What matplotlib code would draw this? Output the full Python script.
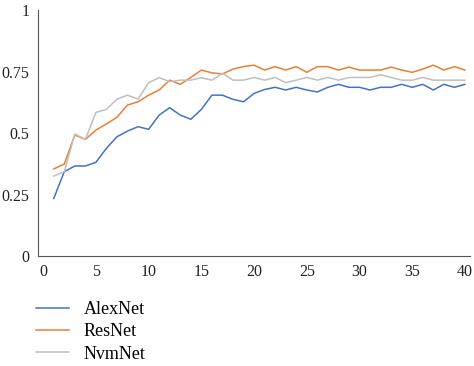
import matplotlib.pyplot as plt
import matplotlib.font_manager as fm
import numpy as np

epochs = list(range(1, 41))
alexnet = [0.234, 0.343, 0.366, 0.366, 0.381, 0.438, 0.485, 0.508, 0.526, 0.515,
           0.573, 0.603, 0.573, 0.556, 0.596, 0.654, 0.654, 0.637, 0.627, 0.661,
           0.677, 0.686, 0.675, 0.686, 0.675, 0.667, 0.686, 0.698, 0.686, 0.686,
           0.675, 0.686, 0.686, 0.698, 0.686, 0.698, 0.675, 0.698, 0.686, 0.698]
resnet = [0.354, 0.374, 0.492, 0.474, 0.512, 0.537, 0.564, 0.614, 0.627, 0.654,
          0.675, 0.715, 0.698, 0.726, 0.756, 0.745, 0.740, 0.760, 0.770, 0.776,
          0.756, 0.770, 0.756, 0.770, 0.747, 0.770, 0.770, 0.756, 0.768, 0.756,
          0.756, 0.756, 0.768, 0.756, 0.747, 0.760, 0.776, 0.756, 0.770, 0.756]
nvmnet = [0.325, 0.343, 0.496, 0.474, 0.584, 0.596, 0.638, 0.654, 0.638, 0.705,
          0.725, 0.709, 0.715, 0.715, 0.725, 0.715, 0.743, 0.715, 0.715, 0.726,
          0.715, 0.726, 0.705, 0.715, 0.726, 0.715, 0.726, 0.715, 0.726, 0.726,
          0.726, 0.737, 0.726, 0.715, 0.715, 0.726, 0.715, 0.715, 0.715, 0.715]

x_ticks = [0, 5, 10, 15, 20, 25, 30, 35, 40]
y_ticks = [0, 0.25, 0.5, 0.75, 1]
y_labels = ['0', '0.25', '0.5', '0.75', '1']

# pick a Times-like serif if one is there
names = {f.name for f in fm.fontManager.ttflist}
serif = [n for n in ['Liberation Serif', 'DejaVu Serif'] if n in names]
plt.rcParams['font.family'] = 'serif'
plt.rcParams['font.serif'] = serif + ['DejaVu Serif']

fig = plt.figure(figsize=(4.74, 3.66), dpi=100)
ax = fig.add_axes([0.080, 0.3005, 0.912, 0.672])

ax.plot(epochs, alexnet, color='#4472C4', linewidth=1.1, label='AlexNet')
ax.plot(epochs, resnet, color='#ED7D31', linewidth=1.1, label='ResNet')
ax.plot(epochs, nvmnet, color='#BFBFBF', linewidth=1.1, label='NvmNet')

ax.set_xlim(-0.5, 40.5)
ax.set_ylim(0, 1)
ax.set_xticks(x_ticks)
ax.set_yticks(y_ticks)
ax.set_yticklabels(y_labels)
ax.tick_params(length=0, labelsize=11.5, colors='#222222', pad=6)
ax.spines['top'].set_visible(False)
ax.spines['right'].set_visible(False)
ax.spines['left'].set_color('#555555')
ax.spines['bottom'].set_color('#555555')

fig.legend(loc='upper left', bbox_to_anchor=(0.075, 0.178), frameon=False,
           fontsize=13, handlelength=1.85, handletextpad=0.8, labelspacing=0.3,
           borderaxespad=0, borderpad=0)

fig.savefig('out.png', dpi=100)
